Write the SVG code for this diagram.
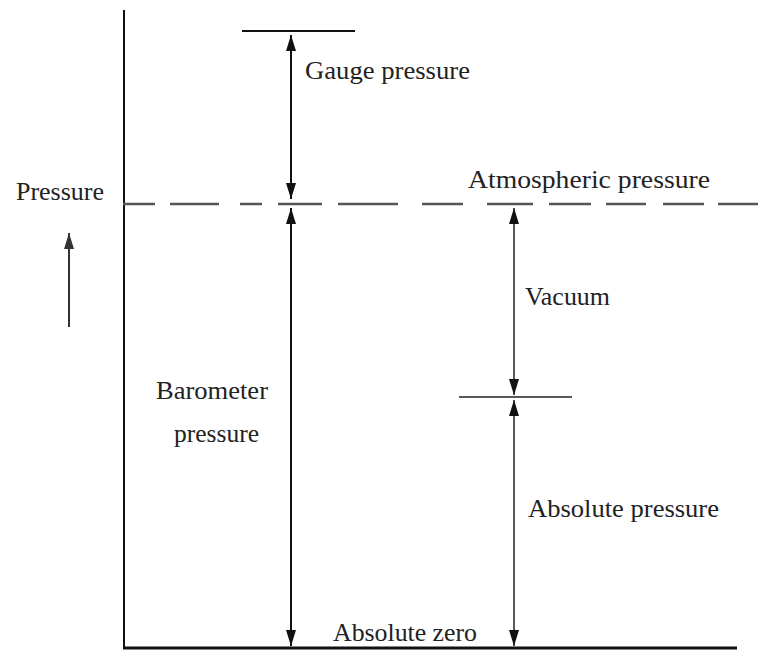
<svg xmlns="http://www.w3.org/2000/svg" width="768" height="658" viewBox="0 0 768 658">
<style>
.t{font-family:"Liberation Serif","Times New Roman",serif;font-size:25px;fill:#222}
.ax{stroke:#111;stroke-width:2;fill:none}
.arr{stroke:#111;stroke-width:2;fill:none}
.thin{stroke:#222;stroke-width:1.5;fill:none}
.dash{stroke:#555;stroke-width:2.5;fill:none}
</style>
<defs>
<marker id="ah" viewBox="0 0 16 10" refX="16" refY="5" markerWidth="16" markerHeight="10" markerUnits="userSpaceOnUse" orient="auto-start-reverse">
<path d="M0,0 L16,5 L0,10 z" fill="#111"/>
</marker>
<marker id="ahg" viewBox="0 0 16 10" refX="16" refY="5" markerWidth="16" markerHeight="10" markerUnits="userSpaceOnUse" orient="auto">
<path d="M0,0 L16,5 L0,10 z" fill="#333"/>
</marker>
</defs>
<rect width="768" height="658" fill="#fff"/>
<g id="axes">
<line class="ax" x1="124" y1="10" x2="124" y2="649"/>
<line x1="123" y1="648" x2="737" y2="648" stroke="#111" stroke-width="3"/>
</g>
<g id="atmospheric-line">
<path class="dash" d="M123,204H155M170,204H219M240,204H262M278,204H322M338,204H398M422,204H463M487,204H533M549,204H591M606,204H646M663,204H704M718,204H758"/>
<text class="t" x="468" y="188" textLength="242" lengthAdjust="spacingAndGlyphs">Atmospheric pressure</text>
</g>
<g id="gauge-level">
<line class="ax" x1="242" y1="31" x2="355" y2="31"/>
</g>
<g id="vacuum-level">
<line class="thin" x1="459" y1="397" x2="572" y2="397"/>
</g>
<g id="connectors">
<line class="arr" x1="291" y1="35" x2="291" y2="199" marker-start="url(#ah)" marker-end="url(#ah)"/>
<line class="arr" x1="291" y1="208" x2="291" y2="646" marker-start="url(#ah)" marker-end="url(#ah)"/>
<line class="thin" x1="514" y1="208" x2="514" y2="395" marker-start="url(#ah)" marker-end="url(#ah)"/>
<line class="thin" x1="514" y1="400" x2="514" y2="646" marker-start="url(#ah)" marker-end="url(#ah)"/>
<line x1="69" y1="327" x2="69" y2="233" stroke="#333" stroke-width="2" marker-end="url(#ahg)"/>
</g>
<g id="label-pressure"><text class="t" x="16" y="200" textLength="88" lengthAdjust="spacingAndGlyphs">Pressure</text></g>
<g id="label-gauge"><text class="t" x="305" y="79" textLength="165" lengthAdjust="spacingAndGlyphs">Gauge pressure</text></g>
<g id="label-vacuum"><text class="t" x="525" y="305" textLength="85" lengthAdjust="spacingAndGlyphs">Vacuum</text></g>
<g id="label-barometer">
<text class="t" x="156" y="399" textLength="112" lengthAdjust="spacingAndGlyphs">Barometer</text>
<text class="t" x="174" y="442" textLength="85" lengthAdjust="spacingAndGlyphs">pressure</text>
</g>
<g id="label-absolute"><text class="t" x="528" y="517" textLength="191" lengthAdjust="spacingAndGlyphs">Absolute pressure</text></g>
<g id="label-zero"><text class="t" x="333" y="641" textLength="144" lengthAdjust="spacingAndGlyphs">Absolute zero</text></g>
</svg>
